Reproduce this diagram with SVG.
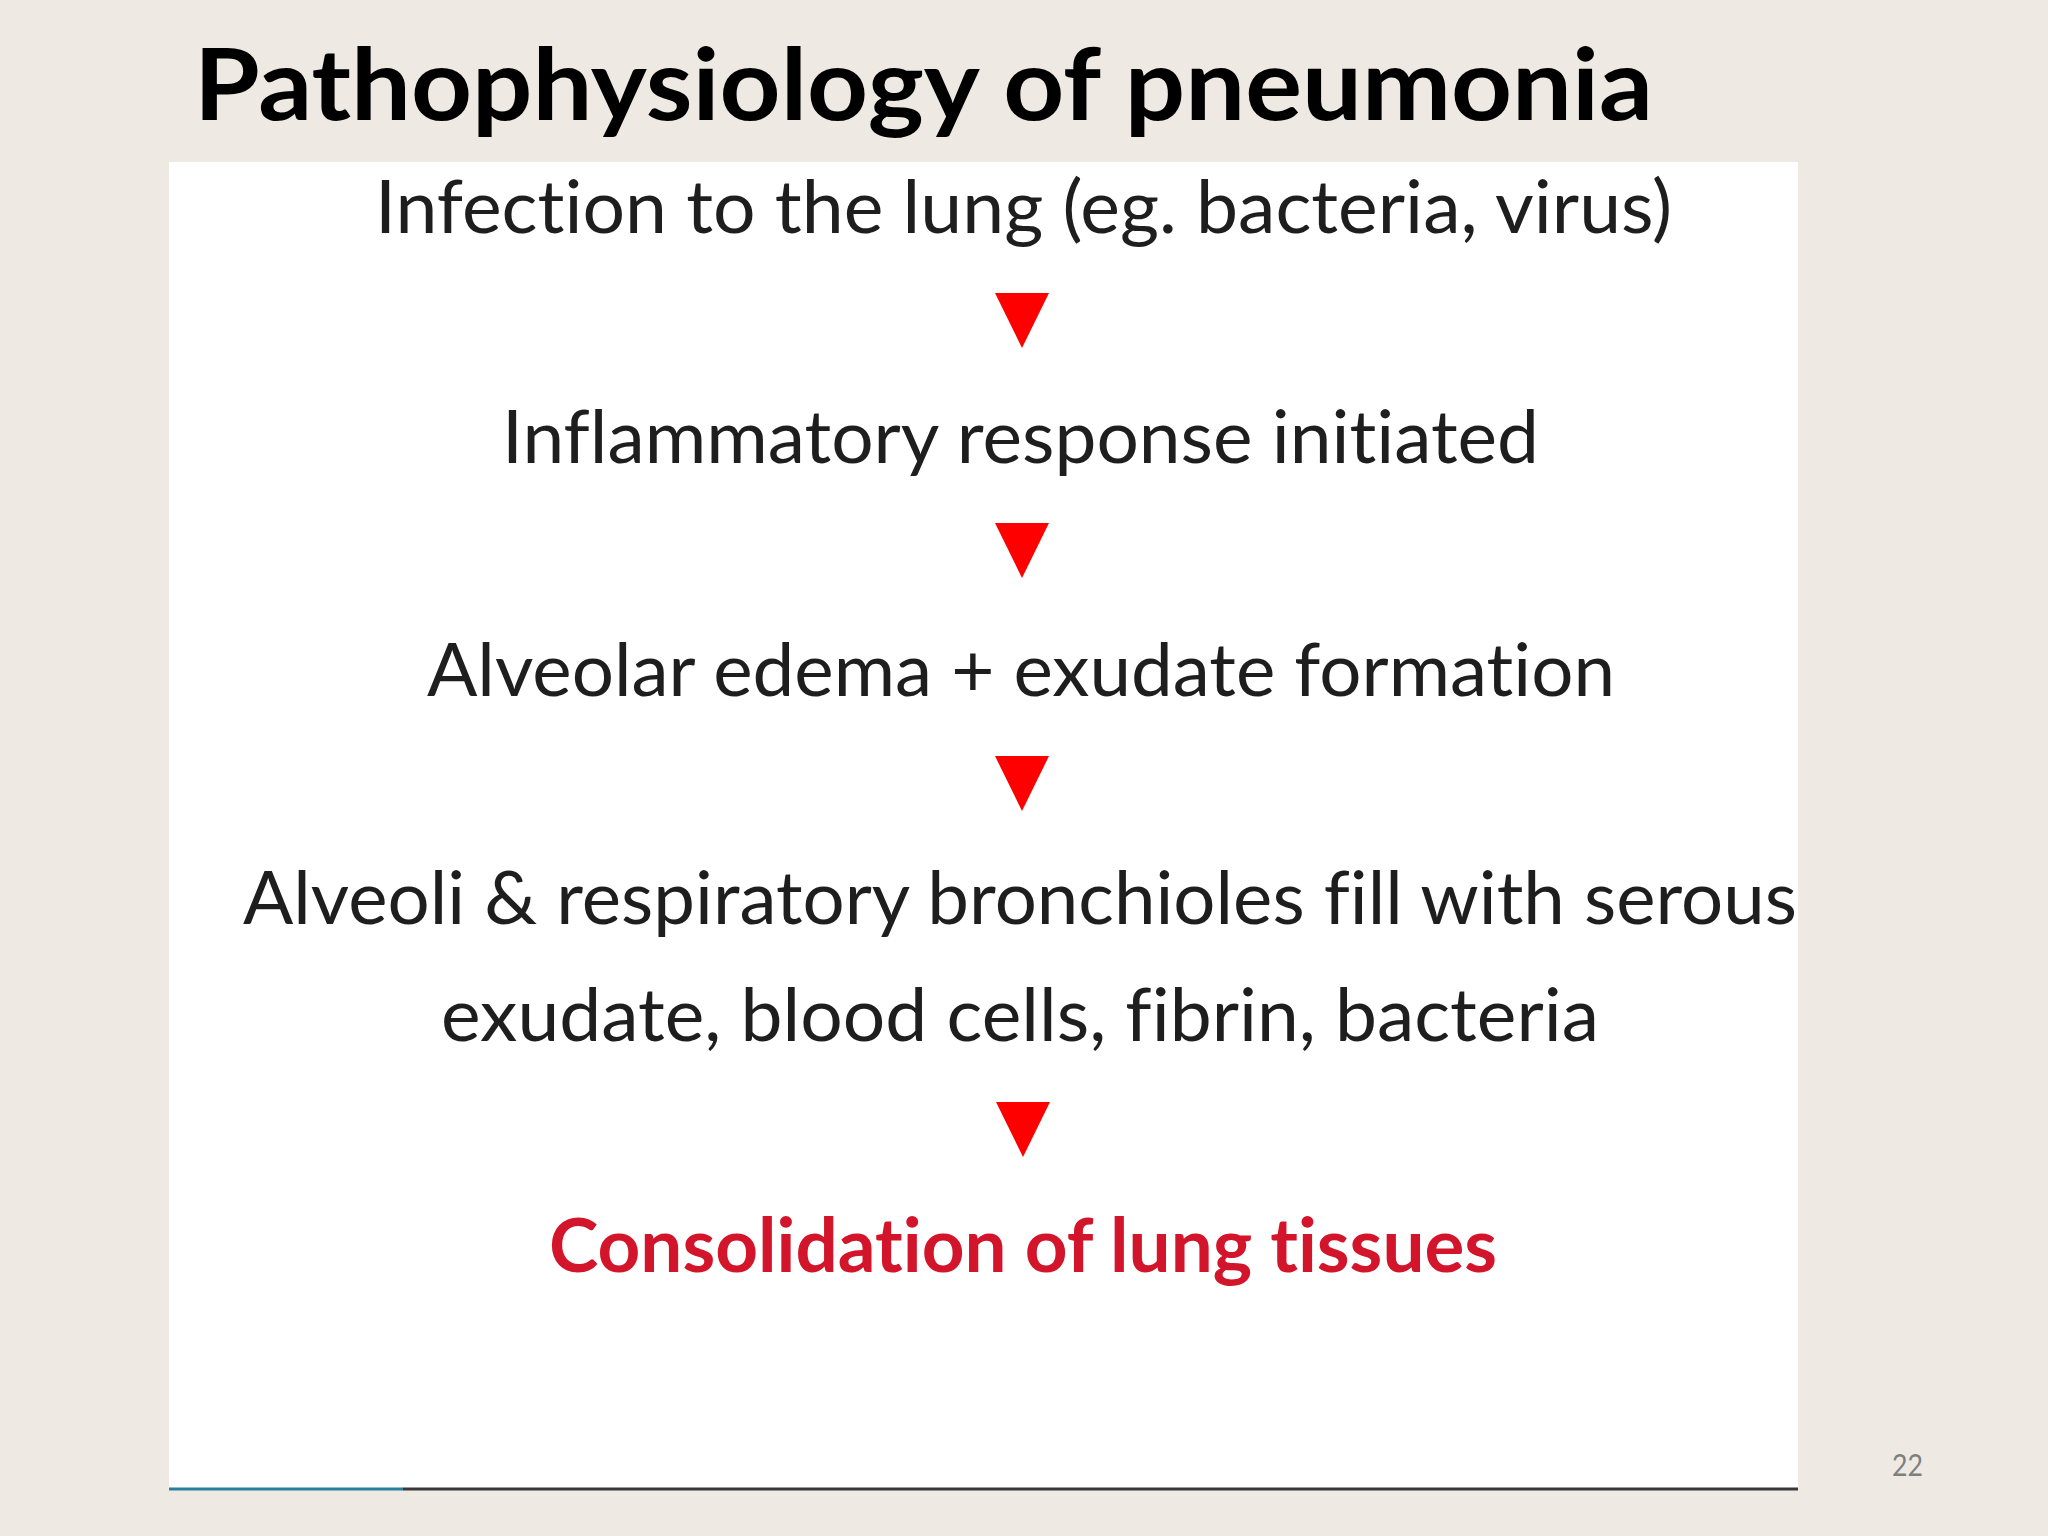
<svg xmlns="http://www.w3.org/2000/svg" width="2048" height="1536" viewBox="0 0 2048 1536">
  <style>
    text { font-variant-ligatures: none; font-feature-settings: "liga" 0, "clig" 0, "dlig" 0; }
    .title { font-family: Lato, "Liberation Sans", sans-serif; font-weight: 700; font-size: 100px; fill: #000; }
    .step { font-family: Lato, "Liberation Sans", sans-serif; font-weight: 400; font-size: 73px; fill: #1e1e1e; }
    .result { font-family: Lato, "Liberation Sans", sans-serif; font-weight: 700; font-size: 74px; fill: #d3152b; }
    .pagenum { font-family: Lato, "Liberation Sans", sans-serif; font-size: 31px; fill: #7f7f7f; }
    .arrow { fill: #ff0000; }
  </style>
  <defs>
    <polygon id="tri" points="-27,0 27,0 0,55"/>
  </defs>
  <rect x="0" y="0" width="2048" height="1536" fill="#eee9e3"/>
  <text class="title" x="194" y="120" textLength="1459" lengthAdjust="spacingAndGlyphs">Pathophysiology of pneumonia</text>
  <rect id="panel" x="169" y="162" width="1629" height="1327" fill="#ffffff"/>
  <line x1="169" y1="1489" x2="403" y2="1489" stroke="#2b7f9e" stroke-width="3"/>
  <line x1="403" y1="1489" x2="1798" y2="1489" stroke="#383838" stroke-width="3"/>

  <g id="node-infection">
    <text class="step" x="375" y="233" textLength="1297" lengthAdjust="spacingAndGlyphs">Infection to the lung (eg. bacteria, virus)</text>
  </g>
  <g id="node-inflammatory">
    <text class="step" x="502" y="463" textLength="1037" lengthAdjust="spacingAndGlyphs">Inflammatory response initiated</text>
  </g>
  <g id="node-edema">
    <text class="step" x="427" y="696" textLength="1188" lengthAdjust="spacingAndGlyphs">Alveolar edema + exudate formation</text>
  </g>
  <g id="node-alveoli">
    <text class="step" x="243" y="924" textLength="1554" lengthAdjust="spacingAndGlyphs">Alveoli &amp; respiratory bronchioles fill with serous</text>
    <text class="step" x="441" y="1041" textLength="1158" lengthAdjust="spacingAndGlyphs">exudate, blood cells, fibrin, bacteria</text>
  </g>
  <g id="node-consolidation">
    <text class="result" x="549" y="1272" textLength="948" lengthAdjust="spacingAndGlyphs">Consolidation of lung tissues</text>
  </g>

  <g id="connectors">
    <use href="#tri" class="arrow" x="1022" y="293"/>
    <use href="#tri" class="arrow" x="1022" y="523"/>
    <use href="#tri" class="arrow" x="1022" y="756"/>
    <use href="#tri" class="arrow" x="1023" y="1102"/>
  </g>

  <text class="pagenum" x="1892" y="1476" textLength="31" lengthAdjust="spacingAndGlyphs">22</text>
</svg>
